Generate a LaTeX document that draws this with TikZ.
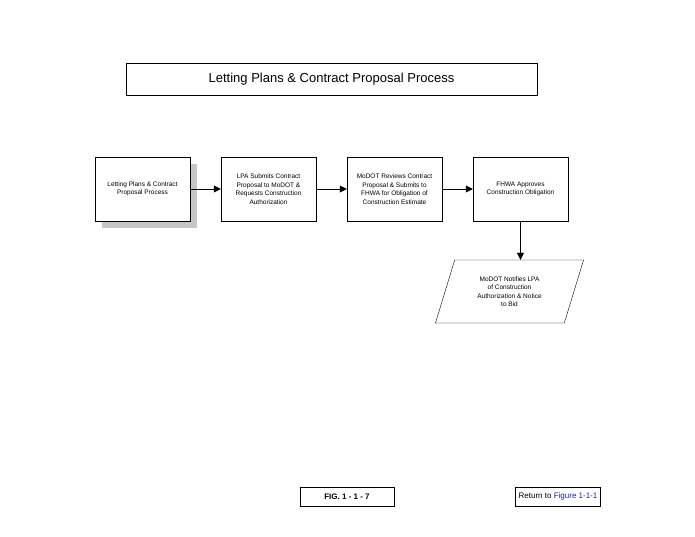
\documentclass[tikz,border=0pt]{standalone}
\usepackage{fontspec}
\setmainfont{Liberation Sans}
\usepackage{tikz}
\usetikzlibrary{shapes.geometric,arrows.meta}
\definecolor{linkblue}{RGB}{30,30,160}
\tikzset{
  procbox/.style={draw, minimum width=95pt, minimum height=64pt, align=center, font=\fontsize{6.5}{8.5}\selectfont, fill=white},
  io/.style={draw, trapezium, trapezium left angle=73, trapezium right angle=107, minimum width=105pt, minimum height=63pt, align=center, font=\fontsize{6.5}{8.5}\selectfont, inner xsep=0pt},
  flow/.style={-{Triangle[length=7pt,width=7pt]}}
}
\begin{document}
\begin{tikzpicture}[x=1pt,y=-1pt]
        \useasboundingbox (0,0) rectangle (695,537);
        % Title
        \node[draw, minimum width=411pt, minimum height=32pt, font=\fontsize{13}{15}\selectfont] (title) at (331.5,79) {Letting Plans \& Contract Proposal Process};

        % Process row
        \fill[gray!45] (102,164) rectangle (197,228);
        \node[procbox] (letting) at (142.5,189) {Letting Plans \& Contract\\Proposal Process};
        \node[procbox] (submit) at (268.5,189) {LPA Submits Contract\\Proposal to MoDOT \&\\Requests Construction\\Authorization};
        \node[procbox] (review) at (394.5,189) {MoDOT Reviews Contract\\Proposal \& Submits to\\FHWA for Obligation of\\Construction Estimate};
        \node[procbox] (approve) at (520.5,189) {FHWA Approves\\Construction Obligation};
        \node[io] (notify) at (509.5,291.5) {MoDOT Notifies LPA\\of Construction\\Authorization \& Notice\\to Bid};

        % Connections
        \draw[flow] (letting) -- (submit);
        \draw[flow] (submit) -- (review);
        \draw[flow] (review) -- (approve);
        \draw[flow] (approve) -- (approve |- notify.north);

        % Footer
        \node[draw, minimum width=94pt, minimum height=19pt, font=\bfseries\fontsize{8}{10}\selectfont] (fig) at (347,496.5) {FIG. 1 - 1 - 7};
        \node[draw, minimum width=76pt, minimum height=19pt, font=\fontsize{8}{10}\selectfont] (ret) at (558,496.5) {Return to \textcolor{linkblue}{Figure 1-1-1}};
\end{tikzpicture}
\end{document}
